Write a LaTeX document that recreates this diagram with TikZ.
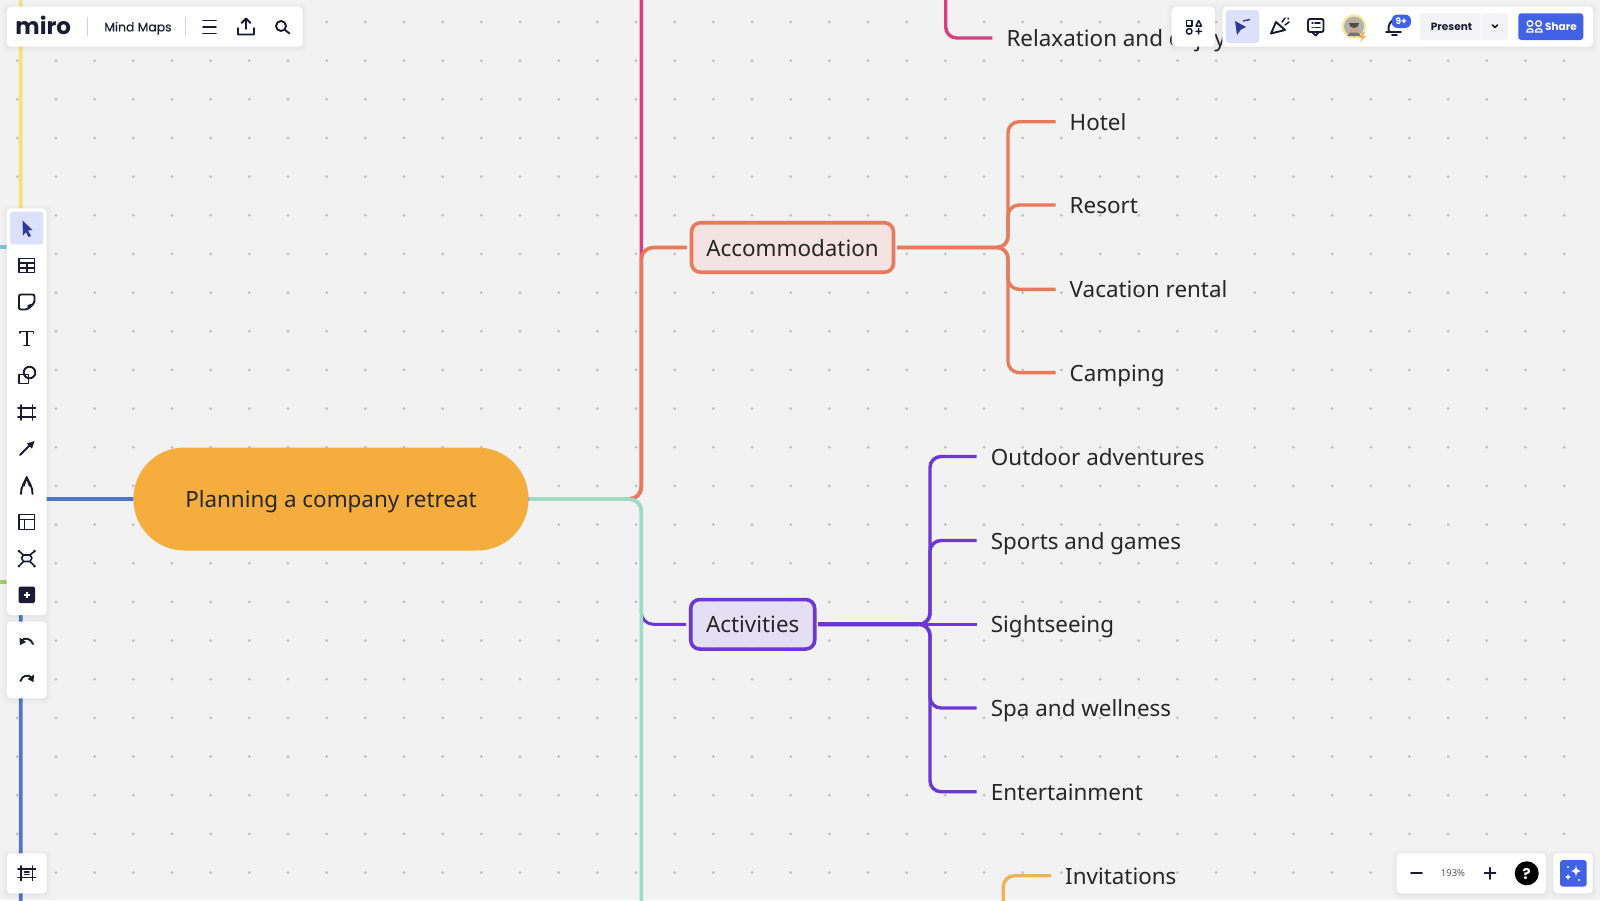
\documentclass[tikz,border=0pt]{standalone}
\usepackage{fontspec}
\setmainfont{Noto Sans}
\newfontfamily\uifont{Poppins}
\newfontfamily\uimed{Poppins}[FakeBold=0.25]
\usetikzlibrary{calc}
\definecolor{bgc}{HTML}{F2F2F2}
\definecolor{dotc}{HTML}{BEBEBE}
\definecolor{pinkc}{HTML}{D63F80}
\definecolor{orangec}{HTML}{E8795A}
\definecolor{tealc}{HTML}{A0DAC5}
\definecolor{purplec}{HTML}{6C37D6}
\definecolor{goldc}{HTML}{EFB25A}
\definecolor{rootc}{HTML}{F5AD3D}
\definecolor{yellowc}{HTML}{F5E27A}
\definecolor{skyc}{HTML}{7EC0E0}
\definecolor{greenc}{HTML}{9CCF6A}
\definecolor{bluec}{HTML}{4F77C8}
\definecolor{inkc}{HTML}{1A1B33}
\definecolor{txtc}{HTML}{262626}
\definecolor{selc}{HTML}{DDE0FB}
\definecolor{navyc}{HTML}{2D3A9B}
\definecolor{brandc}{HTML}{4262E6}
\definecolor{greyc}{HTML}{F3F3F5}
\definecolor{accfill}{HTML}{F3E4E1}
\definecolor{actfill}{HTML}{E3DDF3}
\definecolor{skinc}{HTML}{C9A78F}
\tikzset{
  x=1pt,y=-1pt,
  conn/.style={line width=3pt,rounded corners=12pt},
  trunk/.style={line width=3.6pt,rounded corners=12pt},
  branch/.style={line width=3.4pt,rounded corners=11pt},
  mapfont/.style={font=\fontsize{22.4}{26}\selectfont,text=txtc,text height=17pt,text depth=0pt},
  leaf/.style={mapfont,anchor=west,inner xsep=14pt,inner ysep=0pt},
  topic/.style={mapfont,draw,line width=3.6pt,rounded corners=9pt,minimum height=49.5pt,outer sep=3.6pt,inner sep=0pt},
  ico/.style={draw=inkc,line width=1.9pt,line cap=round,line join=round},
  icof/.style={fill=inkc,draw=none},
}
\newcommand{\uipanel}[4]{%
  \foreach \e/\o in {5/.008,3.5/.01,2/.012,1/.015}{%
    \fill[black,opacity=\o,rounded corners=5pt] (#1-\e,#2-\e+1) rectangle (#3+\e,#4+\e+1);}
  \fill[white,rounded corners=4pt] (#1,#2) rectangle (#3,#4);}
\begin{document}
\begin{tikzpicture}
\useasboundingbox (0,0) rectangle (1600,900);
\fill[bgc] (0,0) rectangle (1600,900);
% dot grid
\foreach \i in {0,...,41}{\foreach \j in {0,...,22}{%
  \fill[dotc] ({17.3+38.67*\i},{22+38.66*\j}) circle (1.5);}}
% nodes
\node[mapfont,fill=rootc,rounded corners=51pt,minimum width=395pt,minimum height=103pt,inner sep=0pt] (root) at (331,499) {Planning a company retreat};
\node[topic,draw=orangec,fill=accfill,minimum width=202pt] (acc) at (792.5,247.5) {Accommodation};
\node[topic,draw=purplec,fill=actfill,fill opacity=.88,text opacity=1,minimum width=124pt] (act) at (752.7,624.3) {Activities};
\node[leaf] (relax) at (992.3,38) {Relaxation and enjoy};
\node[leaf] (hotel) at (1055.5,121.7) {Hotel};
\node[leaf] (resort) at (1055.5,205) {Resort};
\node[leaf] (vac) at (1055.5,289.3) {Vacation rental};
\node[leaf] (camp) at (1055.5,372.6) {Camping};
\node[leaf] (out) at (976.7,456.5) {Outdoor adventures};
\node[leaf] (sports) at (976.7,540.5) {Sports and games};
\node[leaf] (sight) at (976.7,624.3) {Sightseeing};
\node[leaf] (spa) at (976.7,708) {Spa and wellness};
\node[leaf] (ent) at (976.7,791.7) {Entertainment};
\node[leaf] (inv) at (1051,875.7) {Invitations};
% junctions
\coordinate (jr) at (641.3,499);
\coordinate (jl) at (20.7,499);
\coordinate (topr) at (641.3,-20);
\coordinate (botr) at (641.3,920);
\coordinate (topl) at (20.7,-20);
\coordinate (botl) at (20.7,920);
\coordinate (skyend) at (-20,247);
\coordinate (greenend) at (-20,582);
\coordinate (jacc) at (1008,247.5);
\coordinate (jact) at (930,624.3);
\coordinate (prel) at (945.7,-20);
\coordinate (pinv) at (1003.3,920);
% left trunks
\draw[trunk,yellowc] (root.west) -- (jl) -- (topl);
\draw[trunk,skyc] (root.west) -- (jl) |- (skyend);
\draw[trunk,greenc] (root.west) -- (jl) |- (greenend);
\draw[trunk,bluec] (root.west) -- (jl) -- (botl);
% right trunks
\draw[trunk,pinkc] (root.east) -- (jr) -- (topr);
\draw[trunk,orangec] (root.east) -- (jr) |- ([xshift=-1pt]acc.west);
\draw[conn,purplec] (root.east) -- (jr) |- ([xshift=-1pt]act.west);
\draw[trunk,tealc] (root.east) -- (jr) -- (botr);
% branches
\draw[branch,pinkc] (prel) |- (relax.west);
\foreach \n in {hotel,resort,vac,camp}{\draw[branch,orangec] (acc.east) -- (jacc) |- (\n.west);}
\draw[line width=3.9pt,orangec] (acc.east) -- ([xshift=-8pt]jacc);
\foreach \n in {out,sports,spa,ent}{\draw[branch,purplec] (act.east) -- (jact) |- (\n.west);}
\draw[branch,purplec] (act.east) -- (sight.west);
\draw[line width=4.2pt,purplec] (act.east) -- ([xshift=-8pt]jact);
\draw[branch,goldc] (pinv) |- (inv.west);
% panels
\uipanel{6.7}{6.7}{302.7}{46.7}
\uipanel{1171.7}{6.7}{1215}{46.7}
\uipanel{1222.3}{6.7}{1593}{46.7}
\uipanel{6.7}{208.3}{46.7}{615}
\uipanel{6.7}{621.7}{46.7}{698.3}
\uipanel{6.7}{853.3}{46.7}{893.3}
\uipanel{1396.7}{853.3}{1546}{893.3}
\uipanel{1553.3}{853.3}{1592.7}{893.3}
% top-left bar
\node[font=\uifont\bfseries\fontsize{23}{23}\selectfont,text=inkc,inner sep=0pt] (logo) at (43.3,25.5) {miro};
\draw[black!18,line width=1pt] (87.5,17)--(87.5,36) (185.5,17)--(185.5,36);
\node[font=\uimed\fontsize{12.4}{15}\selectfont,text=inkc,inner sep=0pt] (boardname) at (138,28.3) {Mind Maps};
\draw[ico] (203,20.5)--(216,20.5) (203,27)--(216,27) (203,33.5)--(216,33.5);
\draw[ico] (238,28)--(238,34.5)--(254,34.5)--(254,28) (246,29)--(246,19) (241.5,23)--(246,18.5)--(250.5,23);
\draw[ico] (281,26) circle (5); \draw[ico] (284.7,29.7)--(289.5,33.5);
% left toolbar
\fill[selc,rounded corners=3pt] (10,211.7) rectangle (43.3,244.3);
\fill[navyc] (22.5,220.5)--(32.5,230)--(28,230.5)--(31,236)--(28.5,237)--(26,232)--(23,235.5)--cycle;
\draw[ico] (19,258.5) rectangle (34.5,272.5) (19,263.2)--(34.5,263.2) (19,267.8)--(34.5,267.8) (26.7,263.2)--(26.7,272.5);
\draw[ico,rounded corners=2pt] (19,294.5)--(34.5,294.5)--(34.5,303)--(27.5,309.5)--(19,309.5)--cycle;
\fill[inkc] (34.5,303)--(27.5,309.5)--(27.5,305)--cycle;
\draw[ico] (20,333)--(20,331.5)--(33.5,331.5)--(33.5,333) (26.7,331.5)--(26.7,345.5) (24,345.5)--(29.5,345.5);
\draw[ico] (19,374.5) rectangle (28.5,383.5); \draw[ico] (29.5,372.5) circle (5.8);
\draw[ico] (21,405)--(21,420) (32.5,405)--(32.5,420) (18,408)--(35.5,408) (18,417)--(35.5,417);
\draw[ico] (20,455)--(31,444); \fill[inkc] (34.5,441)--(27,443.5)--(32,448.5)--cycle;
\draw[ico] (21,494)..controls (20.5,487) and (25,482) .. (26.7,477)..controls (28.5,482) and (33,487) .. (32.5,494);
\draw[ico,line width=1.4pt] (24,486)--(26.7,478)--(29.5,486);
\draw[ico] (19,514.5) rectangle (34.5,529.5) (19,519.5)--(34.5,519.5) (24.5,519.5)--(24.5,529.5);
\draw[ico,line width=1.6pt] (23.5,555)--(30,555)--(32,558)--(30,561.5)--(23.5,561.5)--(21.5,558)--cycle (23.5,555)--(20,552) (30,555)--(33.5,552) (23.5,561.5)--(20,565) (30,561.5)--(33.5,565);
\fill[inkc] (19,551) circle (1.5) (34.5,551) circle (1.5) (19,566) circle (1.5) (34.5,566) circle (1.5);
\fill[inkc,rounded corners=2pt] (18.5,586.5) rectangle (35,603);
\draw[white,line width=1.6pt] (26.7,591.5)--(26.7,598) (23.5,594.7)--(30,594.7);
\draw[ico] (21,641) .. controls (24,637) and (31,638) .. (33,644); \fill[inkc] (19.5,637.5)--(20,645)--(26,642)--cycle;
\draw[ico] (32,678) .. controls (29,674) and (22,675) .. (20.5,681); \fill[inkc] (34,674.5)--(33.5,682)--(27.5,679)--cycle;
\draw[ico] (21,866)--(21,880.5) (32.5,866)--(32.5,880.5) (18,869)--(35.5,869) (18,877.5)--(35.5,877.5) (24.5,872)--(29,872) (24.5,874.5)--(29,874.5);
% top-right bar
\draw[ico,line width=1.5pt] (1186.5,20.5) rectangle (1192,26);
\draw[ico,line width=1.5pt] (1196,26)--(1198.7,20.5)--(1201.5,26)--cycle;
\draw[ico,line width=1.5pt] (1189.2,31.3) circle (2.8) (1198.7,28.5)--(1198.7,34) (1196,31.3)--(1201.5,31.3);
\fill[selc,rounded corners=3pt] (1225.7,10) rectangle (1259,43);
\fill[navyc] (1235,21)--(1246,27)--(1241,29.5)--(1237,35)--cycle;
\draw[navyc,line width=1.4pt] (1243,21)--(1250,19.5);
\draw[ico] (1271,33.5)--(1276,22)--(1285,30)--cycle;
\draw[ico,line width=1.5pt] (1282,22)--(1285,18) (1285,25)--(1289,22) (1288,18)--(1288.5,19);
\draw[ico,rounded corners=2pt] (1308,19) rectangle (1323.5,32);
\draw[ico] (1312,32)--(1315.7,35.5)--(1319,32);
\draw[ico,line width=1.5pt] (1312,23)--(1313,23) (1315,23)--(1320,23) (1312,27.5)--(1313,27.5) (1315,27.5)--(1320,27.5);
\fill[yellowc!75!white] (1354,26.5) circle (12.3);
\fill[black!30] (1354,26.5) circle (10);
\fill[skinc] (1354,26.5) ellipse (5 and 6.5);
\fill[black!70] (1349,23) arc (180:0:5 and 5) -- cycle;
\fill[black!55] (1347,36)--(1361,36)--(1358,32.5)--(1350,32.5)--cycle;
\fill[goldc] (1363,32)--(1359,38)--(1362,38)--(1360,42)--(1366,36)--(1363,36)--(1365,32)--cycle;
\draw[ico] (1386,32)--(1389,32) .. controls (1387,27) and (1390,19) .. (1397,19) (1389,32)--(1401,32) (1392,35)--(1397,35);
\fill[brandc,rounded corners=6pt] (1391.5,14.5) rectangle (1411,28);
\node[font=\uifont\bfseries\fontsize{9}{10}\selectfont,text=white,inner sep=0pt] (badge) at (1401.2,21.5) {9+};
\fill[greyc,rounded corners=3pt] (1420,13.3) rectangle (1508,40);
\draw[white,line width=.8pt] (1481,13.3)--(1481,40);
\node[font=\uifont\bfseries\fontsize{10.5}{13}\selectfont,text=inkc,inner sep=0pt] (present) at (1451.5,27) {Present};
\draw[ico,line width=1.5pt] (1492.5,25)--(1495,27.5)--(1497.5,25);
\fill[brandc,rounded corners=3pt] (1518.3,13.3) rectangle (1583.3,40);
\draw[white,line width=1.3pt] (1530,23.5) circle (2.8) (1538.5,23.5) circle (2.8);
\draw[white,line width=1.3pt] (1527,32)--(1527,31) .. controls (1527,28) and (1533,28) .. (1533,31) -- (1533,32)--cycle (1535.5,32)--(1535.5,31) .. controls (1535.5,28) and (1542,28) .. (1542,31)--(1542,32)--cycle;
\node[font=\uifont\bfseries\fontsize{10.5}{13}\selectfont,text=white,inner sep=0pt] (share) at (1561,27) {Share};
% bottom-right bar
\draw[ico] (1411,873.3)--(1422,873.3);
\node[font=\fontsize{9.5}{11}\selectfont,text=inkc!75,inner sep=0pt] (zoomval) at (1453,873.3) {193\%};
\draw[ico] (1484.5,873.3)--(1495.5,873.3) (1490,867.8)--(1490,878.8);
\fill[black] (1526.7,873.3) circle (12);
\node[font=\uifont\bfseries\fontsize{15}{15}\selectfont,text=white,inner sep=0pt] (helpq) at (1526.7,874) {?};
\fill[brandc,rounded corners=3pt] (1560,860) rectangle (1586.7,886.7);
\fill[white] (1576,865) .. controls (1576.5,869) and (1577,870) .. (1581,871) .. controls (1577,872) and (1576.5,873) .. (1576,877) .. controls (1575.5,873) and (1575,872) .. (1571,871) .. controls (1575,870) and (1575.5,869) .. (1576,865) -- cycle;
\fill[white] (1568,874) .. controls (1568.3,876) and (1569,876.5) .. (1571,877) .. controls (1569,877.5) and (1568.3,878) .. (1568,880) .. controls (1567.7,878) and (1567,877.5) .. (1565,877) .. controls (1567,876.5) and (1567.7,876) .. (1568,874) -- cycle;
\fill[white] (1568,867) circle (1.2) (1579,880) circle (1.2);
\end{tikzpicture}
\end{document}
